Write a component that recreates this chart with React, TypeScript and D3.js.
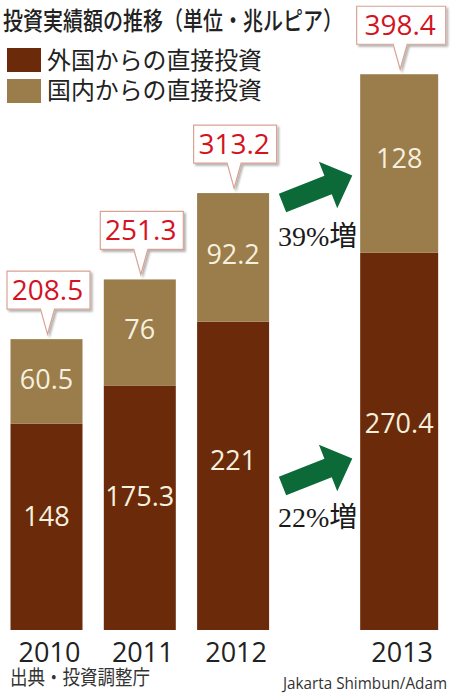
import React from "react";
import * as d3 from "d3";

const years = ["2010", "2011", "2012", "2013"];
const foreign = [148, 175.3, 221, 270.4];
const domestic = [60.5, 76, 92.2, 128];
const totals = [208.5, 251.3, 313.2, 398.4];
const slots = [0, 1, 2, 3.78];
const barWidths = [72, 72, 72, 78];
const growthLabels = ["39%増", "22%増"];
const legendLabels = ["外国からの直接投資", "国内からの直接投資"];
const title = "投資実績額の推移（単位・兆ルピア）";
const source = "出典・投資調整庁";
const credit = "Jakarta Shimbun/Adam";

const W = 454;
const H = 700;
const BROWN = "#6b2b0b";
const TAN = "#9b7c4b";
const GREEN = "#0c6a39";
const RED = "#d3141f";
const CREAM = "#f6f0de";
const SANS = "'Open Sans', 'Noto Sans CJK JP', sans-serif";
const CJK = "'Noto Sans CJK JP', sans-serif";
const SERIF = "'Liberation Serif', 'Noto Sans CJK JP', serif";

export default function App() {
  const x = d3.scaleLinear().domain([0, 1]).range([46.5, 139.8]);
  const y = d3.scaleLinear().domain([0, 400]).range([630, 72]);

  const bars = years.map((yr, i) => {
    const cx = x(slots[i]);
    const w = barWidths[i];
    return {
      yr,
      cx,
      x0: cx - w / 2,
      w,
      yBase: y(0),
      yMid: y(foreign[i]),
      yTop: y(foreign[i] + domestic[i]),
      total: totals[i],
      f: foreign[i],
      d: domestic[i],
    };
  });

  // arrow in local coords: tail at x=0, tip at x=75
  const arrowPts: [number, number][] = [
    [0, -10],
    [49, -10],
    [49, -25],
    [75, 0],
    [49, 25],
    [49, 10],
    [0, 10],
  ];
  const arrowPath = d3.line()(arrowPts) + "Z";
  const arrows = [
    { tx: 282.5, ty: 203, label: growthLabels[0], lx: 278, ly: 246 },
    { tx: 282.5, ty: 486, label: growthLabels[1], lx: 278, ly: 527 },
  ];

  const callout = (cx: number, tipY: number, bw: number) => {
    const bh = 38;
    const bx0 = cx - bw / 2 + 1;
    const bx1 = bx0 + bw;
    const by1 = tipY - 25;
    const by0 = by1 - bh;
    const tx = cx;
    const p = d3.path();
    p.moveTo(bx0, by0);
    p.lineTo(bx1, by0);
    p.lineTo(bx1, by1);
    p.lineTo(tx + 7, by1);
    p.lineTo(tx, tipY);
    p.lineTo(tx - 7, by1);
    p.lineTo(bx0, by1);
    p.closePath();
    return { d: p.toString(), by0, by1, bx0, bx1 };
  };

  return (
    <svg
      width={W}
      height={H}
      viewBox={`0 0 ${W} ${H}`}
      style={{ position: "absolute", left: 0, top: 0, background: "#fff" }}
    >
      <defs>
        <filter id="shadow" x="-20%" y="-20%" width="150%" height="150%">
          <feDropShadow dx="2" dy="2" stdDeviation="1.2" floodColor="#000" floodOpacity="0.3" />
        </filter>
      </defs>
      <rect width={W} height={H} fill="#fff" />

      {/* title */}
      <text
        x={3}
        y={30}
        fontFamily={CJK}
        fontSize={25}
        fontWeight={500}
        fill="#222"
        textLength={340}
        lengthAdjust="spacingAndGlyphs"
      >
        {title}
      </text>

      {/* legend */}
      {legendLabels.map((lab, i) => (
        <g key={lab}>
          <rect x={7} y={48 + i * 31} width={34} height={24} fill={i === 0 ? BROWN : TAN} />
          <text
            x={47}
            y={69 + i * 30}
            fontFamily={CJK}
            fontSize={24}
            fill="#222"
            textLength={215}
            lengthAdjust="spacingAndGlyphs"
          >
            {lab}
          </text>
        </g>
      ))}

      {/* bars */}
      {bars.map((b) => (
        <g key={b.yr}>
          <rect x={b.x0} y={b.yMid} width={b.w} height={b.yBase - b.yMid} fill={BROWN} />
          <rect x={b.x0} y={b.yTop} width={b.w} height={b.yMid - b.yTop} fill={TAN} />
          <text
            x={b.cx}
            y={b.yTop + 0.47 * (b.yMid - b.yTop) + 10}
            textAnchor="middle"
            fontFamily={SANS}
            fontSize={27}
            fill={CREAM}
          >
            {b.d}
          </text>
          <text
            x={b.cx}
            y={b.yMid + 0.45 * (b.yBase - b.yMid) + 10}
            textAnchor="middle"
            fontFamily={SANS}
            fontSize={27}
            fill={CREAM}
          >
            {b.f}
          </text>
          <text
            x={b.cx + 3}
            y={662}
            textAnchor="middle"
            fontFamily={SANS}
            fontSize={27}
            fill="#222"
          >
            {b.yr}
          </text>
        </g>
      ))}

      {/* callouts */}
      {bars.map((b) => {
        const c = callout(b.cx + 1, b.yTop - 5, b.w + 11);
        return (
          <g key={"c" + b.yr}>
            <path d={c.d} fill="#fff" stroke="#d9a393" strokeWidth={1.2} filter="url(#shadow)" />
            <text
              x={(c.bx0 + c.bx1) / 2 - 1}
              y={c.by0 + 29}
              textAnchor="middle"
              fontFamily={SANS}
              fontSize={28}
              fill={RED}
            >
              {b.total}
            </text>
          </g>
        );
      })}

      {/* growth arrows */}
      {arrows.map((a) => (
        <g key={a.label}>
          <path d={arrowPath} fill={GREEN} transform={`translate(${a.tx},${a.ty}) rotate(-21.5)`} />
          <text x={a.lx} y={a.ly} fontFamily={SERIF} fontSize={28} fill="#1a1a1a">
            {a.label}
          </text>
        </g>
      ))}

      {/* footer */}
      <text
        x={10}
        y={685}
        fontFamily={CJK}
        fontSize={20}
        fill="#333"
        textLength={140}
        lengthAdjust="spacingAndGlyphs"
      >
        {source}
      </text>
      <text
        x={283}
        y={689}
        fontFamily={SANS}
        fontSize={17}
        fill="#333"
        textLength={164}
        lengthAdjust="spacingAndGlyphs"
      >
        {credit}
      </text>
    </svg>
  );
}
